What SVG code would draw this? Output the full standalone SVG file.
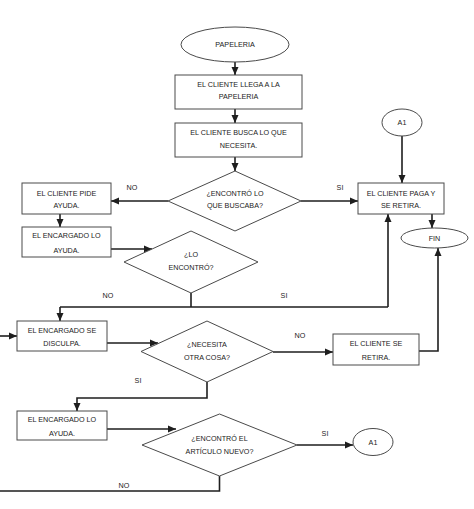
<svg xmlns="http://www.w3.org/2000/svg" width="474" height="509" viewBox="0 0 474 509">
<style>
.shp{fill:#fff;stroke:#4a4a4a;stroke-width:1}
.t{font-family:"Liberation Sans",Arial,sans-serif;font-size:7.2px;fill:#222;text-anchor:middle;dominant-baseline:central}
.c{fill:none;stroke:#1e1e1e;stroke-width:1.6}
.ca{fill:none;stroke:#1e1e1e;stroke-width:1.6;marker-end:url(#ah)}
</style>
<defs>
<marker id="ah" viewBox="0 0 8 8" refX="8" refY="4" markerWidth="8" markerHeight="8" markerUnits="userSpaceOnUse" orient="auto">
<path d="M0,0.5 L8,4 L0,7.5 Z" fill="#1e1e1e"/>
</marker>
</defs>
<rect width="474" height="509" fill="#fff"/>
<g id="connectors">
<path class="ca" d="M235,62 V75"/>
<path class="ca" d="M235,109 V123"/>
<path class="ca" d="M235,157 V171"/>
<path class="ca" d="M168,201 H111"/>
<path class="ca" d="M301,201 H358"/>
<path class="ca" d="M402,136 V183"/>
<path class="ca" d="M60,214 V227"/>
<path class="ca" d="M111,249 H152"/>
<path class="ca" d="M432,214 V228"/>
<path class="c" d="M191,293 V307"/>
<path class="c" d="M60,307 H388"/>
<path class="ca" d="M388,307 V214"/>
<path class="ca" d="M60,307 V321"/>
<path class="ca" d="M0,336 H17"/>
<path class="ca" d="M107,343 H158"/>
<path class="ca" d="M273,352 H333"/>
<path class="ca" d="M419,351 H438 V248"/>
<path class="ca" d="M207,382 V398 H77 V411"/>
<path class="ca" d="M107,429 H176"/>
<path class="ca" d="M297,445 H353"/>
<path class="c" d="M219.5,476 V491 H0"/>
<text class="t" x="132" y="187">NO</text>
<text class="t" x="340" y="187">SI</text>
<text class="t" x="108" y="295">NO</text>
<text class="t" x="284" y="295">SI</text>
<text class="t" x="300" y="335">NO</text>
<text class="t" x="138" y="380">SI</text>
<text class="t" x="325" y="433">SI</text>
<text class="t" x="124" y="485">NO</text>
</g>
<g id="papeleria">
<ellipse class="shp" cx="235" cy="44.5" rx="54" ry="17.5"/>
<text class="t" x="235" y="44.5">PAPELERIA</text>
</g>
<g id="llega">
<rect class="shp" x="175" y="75" width="127" height="34"/>
<text class="t" x="238.5" y="84">EL CLIENTE LLEGA A LA</text>
<text class="t" x="238.5" y="96">PAPELERIA</text>
</g>
<g id="busca">
<rect class="shp" x="175" y="123" width="127" height="34"/>
<text class="t" x="238.5" y="132">EL CLIENTE BUSCA LO QUE</text>
<text class="t" x="238.5" y="145">NECESITA.</text>
</g>
<g id="encontro1">
<polygon class="shp" points="235,171 301,201 235,231 168,201"/>
<text class="t" x="235" y="193">¿ENCONTRÓ LO</text>
<text class="t" x="235" y="205">QUE BUSCABA?</text>
</g>
<g id="pide">
<rect class="shp" x="22" y="183" width="89" height="31"/>
<text class="t" x="66.5" y="193">EL CLIENTE PIDE</text>
<text class="t" x="66.5" y="205">AYUDA.</text>
</g>
<g id="paga">
<rect class="shp" x="358" y="183" width="86" height="31"/>
<text class="t" x="401" y="193">EL CLIENTE PAGA Y</text>
<text class="t" x="401" y="205">SE RETIRA.</text>
</g>
<g id="a1top">
<ellipse class="shp" cx="402" cy="122.5" rx="20" ry="13.5"/>
<text class="t" x="402" y="122.5">A1</text>
</g>
<g id="fin">
<ellipse class="shp" cx="434.5" cy="238" rx="33.5" ry="10"/>
<text class="t" x="434.5" y="238">FIN</text>
</g>
<g id="ayuda1">
<rect class="shp" x="22" y="227" width="89" height="30"/>
<text class="t" x="66.5" y="235">EL ENCARGADO LO</text>
<text class="t" x="66.5" y="250">AYUDA.</text>
</g>
<g id="loencontro">
<polygon class="shp" points="191,231 258,262 191,293 124,262"/>
<text class="t" x="191" y="254">¿LO</text>
<text class="t" x="191" y="267">ENCONTRÓ?</text>
</g>
<g id="disculpa">
<rect class="shp" x="17" y="321" width="90" height="30"/>
<text class="t" x="62" y="330">EL ENCARGADO SE</text>
<text class="t" x="62" y="343">DISCULPA.</text>
</g>
<g id="necesita">
<polygon class="shp" points="207,321 273,351.5 207,382 141,351.5"/>
<text class="t" x="207" y="344">¿NECESITA</text>
<text class="t" x="207" y="357">OTRA COSA?</text>
</g>
<g id="retira">
<rect class="shp" x="333" y="334" width="86" height="31"/>
<text class="t" x="376" y="343">EL CLIENTE SE</text>
<text class="t" x="376" y="357">RETIRA.</text>
</g>
<g id="ayuda2">
<rect class="shp" x="17" y="411" width="90" height="29"/>
<text class="t" x="62" y="419">EL ENCARGADO LO</text>
<text class="t" x="62" y="433">AYUDA.</text>
</g>
<g id="nuevo">
<polygon class="shp" points="219.5,414 297,445 219.5,476 142,445"/>
<text class="t" x="219.5" y="438">¿ENCONTRÓ EL</text>
<text class="t" x="219.5" y="451">ARTÍCULO NUEVO?</text>
</g>
<g id="a1bottom">
<ellipse class="shp" cx="373" cy="442" rx="20" ry="13.5"/>
<text class="t" x="373" y="442">A1</text>
</g>
</svg>
